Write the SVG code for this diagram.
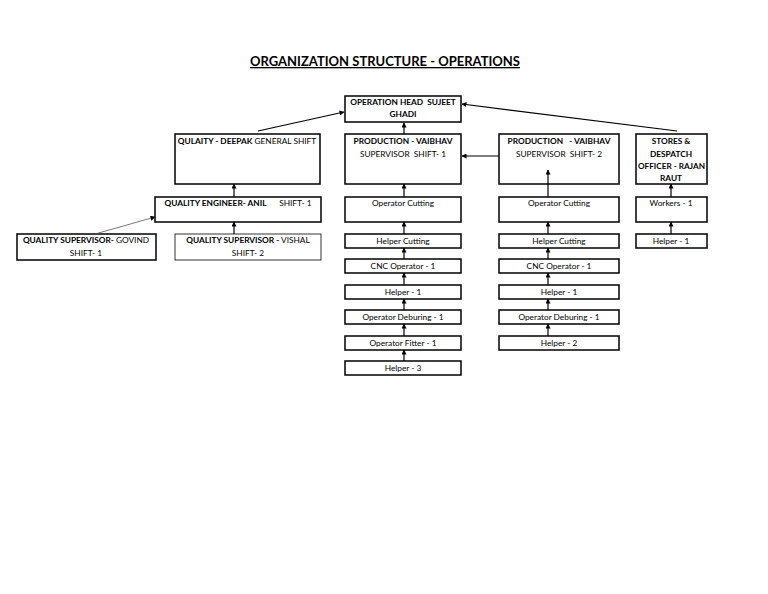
<svg xmlns="http://www.w3.org/2000/svg" width="768" height="594" viewBox="0 0 768 594">
<style>
.b{fill:#fff;stroke:#000;stroke-width:1.5}
.t{font-family:Lato,"Open Sans","Liberation Sans",sans-serif;font-size:8.3px;fill:#000;text-anchor:middle}
.bd{font-weight:bold}
.c{stroke:#000;stroke-width:1.2;fill:none;marker-end:url(#a)}
</style>
<defs>
<marker id="a" viewBox="0 0 10 10" refX="9" refY="5" markerWidth="5" markerHeight="5" orient="auto" markerUnits="userSpaceOnUse">
<path d="M0,0L10,5L0,10z" fill="#000"/>
</marker>
</defs>
<rect width="768" height="594" fill="#fff"/>
<text x="385" y="66" style="font-family:Lato,'Open Sans','Liberation Sans',sans-serif;font-size:13px;font-weight:bold;text-anchor:middle;text-decoration:underline">ORGANIZATION STRUCTURE - OPERATIONS</text>

<g id="opHead"><rect class="b" x="345" y="96" width="116" height="26"/>
<text class="t bd" x="403" y="105" xml:space="preserve">OPERATION HEAD  SUJEET</text><text class="t bd" x="403" y="117">GHADI</text></g>

<g id="quality"><rect class="b" x="175" y="134" width="145" height="50"/>
<text class="t" x="247" y="144"><tspan class="bd">QULAITY - DEEPAK</tspan> GENERAL SHIFT</text></g>

<g id="prod1"><rect class="b" x="345" y="134" width="116" height="50"/>
<text class="t bd" x="403" y="144">PRODUCTION - VAIBHAV</text><text class="t" x="403" y="157" xml:space="preserve">SUPERVISOR  SHIFT- 1</text></g>

<g id="prod2"><rect class="b" x="499" y="134" width="120" height="50"/>
<text class="t bd" x="559" y="144" xml:space="preserve">PRODUCTION   - VAIBHAV</text><text class="t" x="559" y="157" xml:space="preserve">SUPERVISOR  SHIFT- 2</text></g>

<g id="stores"><rect class="b" x="636" y="134" width="71" height="50"/>
<text class="t bd" x="671" y="144">STORES &amp;</text><text class="t bd" x="671" y="157">DESPATCH</text><text class="t bd" x="671.5" y="169" textLength="67" lengthAdjust="spacingAndGlyphs">OFFICER - RAJAN</text><text class="t bd" x="671" y="181">RAUT</text></g>

<g id="qe"><rect class="b" x="155" y="197" width="166" height="25"/>
<text class="t" x="238" y="206" xml:space="preserve"><tspan class="bd">QUALITY ENGINEER- ANIL</tspan>      SHIFT- 1</text></g>

<g id="govind"><rect class="b" x="17" y="234" width="139" height="26"/>
<text class="t" x="86" y="243"><tspan class="bd">QUALITY SUPERVISOR-</tspan> GOVIND</text><text class="t" x="86" y="256">SHIFT- 1</text></g>

<g id="vishal"><rect class="b" x="175" y="234" width="146" height="26" style="stroke-width:0.8"/>
<text class="t" x="248" y="243"><tspan class="bd">QUALITY SUPERVISOR -</tspan> VISHAL</text><text class="t" x="248" y="256">SHIFT- 2</text></g>

<g id="p1cut"><rect class="b" x="345" y="197" width="116" height="25"/><text class="t" x="403" y="206">Operator Cutting</text></g>
<g id="p1help"><rect class="b" x="345" y="234" width="116" height="14"/><text class="t" x="403" y="244">Helper Cutting</text></g>
<g id="p1cnc"><rect class="b" x="345" y="259" width="116" height="14"/><text class="t" x="403" y="269">CNC Operator - 1</text></g>
<g id="p1h1"><rect class="b" x="345" y="285" width="116" height="14"/><text class="t" x="403" y="295">Helper - 1</text></g>
<g id="p1deb"><rect class="b" x="345" y="310" width="116" height="14"/><text class="t" x="403" y="320">Operator Deburing - 1</text></g>
<g id="p1fit"><rect class="b" x="345" y="336" width="116" height="14"/><text class="t" x="403" y="346">Operator Fitter - 1</text></g>
<g id="p1h3"><rect class="b" x="345" y="361" width="116" height="14"/><text class="t" x="403" y="371">Helper - 3</text></g>

<g id="p2cut"><rect class="b" x="499" y="197" width="120" height="25"/><text class="t" x="559" y="206">Operator Cutting</text></g>
<g id="p2help"><rect class="b" x="499" y="234" width="120" height="14"/><text class="t" x="559" y="244">Helper Cutting</text></g>
<g id="p2cnc"><rect class="b" x="499" y="259" width="120" height="14"/><text class="t" x="559" y="269">CNC Operator - 1</text></g>
<g id="p2h1"><rect class="b" x="499" y="285" width="120" height="14"/><text class="t" x="559" y="295">Helper - 1</text></g>
<g id="p2deb"><rect class="b" x="499" y="310" width="120" height="14"/><text class="t" x="559" y="320">Operator Deburing - 1</text></g>
<g id="p2h2"><rect class="b" x="499" y="336" width="120" height="14"/><text class="t" x="559" y="346">Helper - 2</text></g>

<g id="workers"><rect class="b" x="636" y="197" width="71" height="25"/><text class="t" x="671" y="206">Workers - 1</text></g>
<g id="sHelper"><rect class="b" x="636" y="234" width="71" height="14"/><text class="t" x="671" y="244">Helper - 1</text></g>

<g id="connectors">
<line class="c" x1="677" y1="131" x2="462" y2="104"/>
<line class="c" x1="258" y1="131" x2="344" y2="112"/>
<line class="c" x1="404" y1="134" x2="404" y2="123"/>
<line class="c" x1="499" y1="156" x2="462" y2="156"/>
<line class="c" x1="234" y1="197" x2="234" y2="184"/>
<line class="c" x1="95" y1="234" x2="155" y2="217" style="stroke:#555;stroke-width:0.8"/>
<line class="c" x1="234" y1="234" x2="234" y2="222"/>
<line class="c" x1="404" y1="197" x2="404" y2="184"/>
<line class="c" x1="404" y1="234" x2="404" y2="222"/>
<line class="c" x1="404" y1="259" x2="404" y2="248"/>
<line class="c" x1="404" y1="285" x2="404" y2="273"/>
<line class="c" x1="404" y1="310" x2="404" y2="299"/>
<line class="c" x1="404" y1="336" x2="404" y2="324"/>
<line class="c" x1="404" y1="361" x2="404" y2="350"/>
<line class="c" x1="548" y1="197" x2="548" y2="170"/>
<line class="c" x1="548" y1="234" x2="548" y2="222"/>
<line class="c" x1="548" y1="259" x2="548" y2="248"/>
<line class="c" x1="548" y1="285" x2="548" y2="273"/>
<line class="c" x1="548" y1="310" x2="548" y2="299"/>
<line class="c" x1="548" y1="336" x2="548" y2="324"/>
<line class="c" x1="671" y1="197" x2="671" y2="184"/>
<line class="c" x1="671" y1="234" x2="671" y2="222"/>
</g>
</svg>
